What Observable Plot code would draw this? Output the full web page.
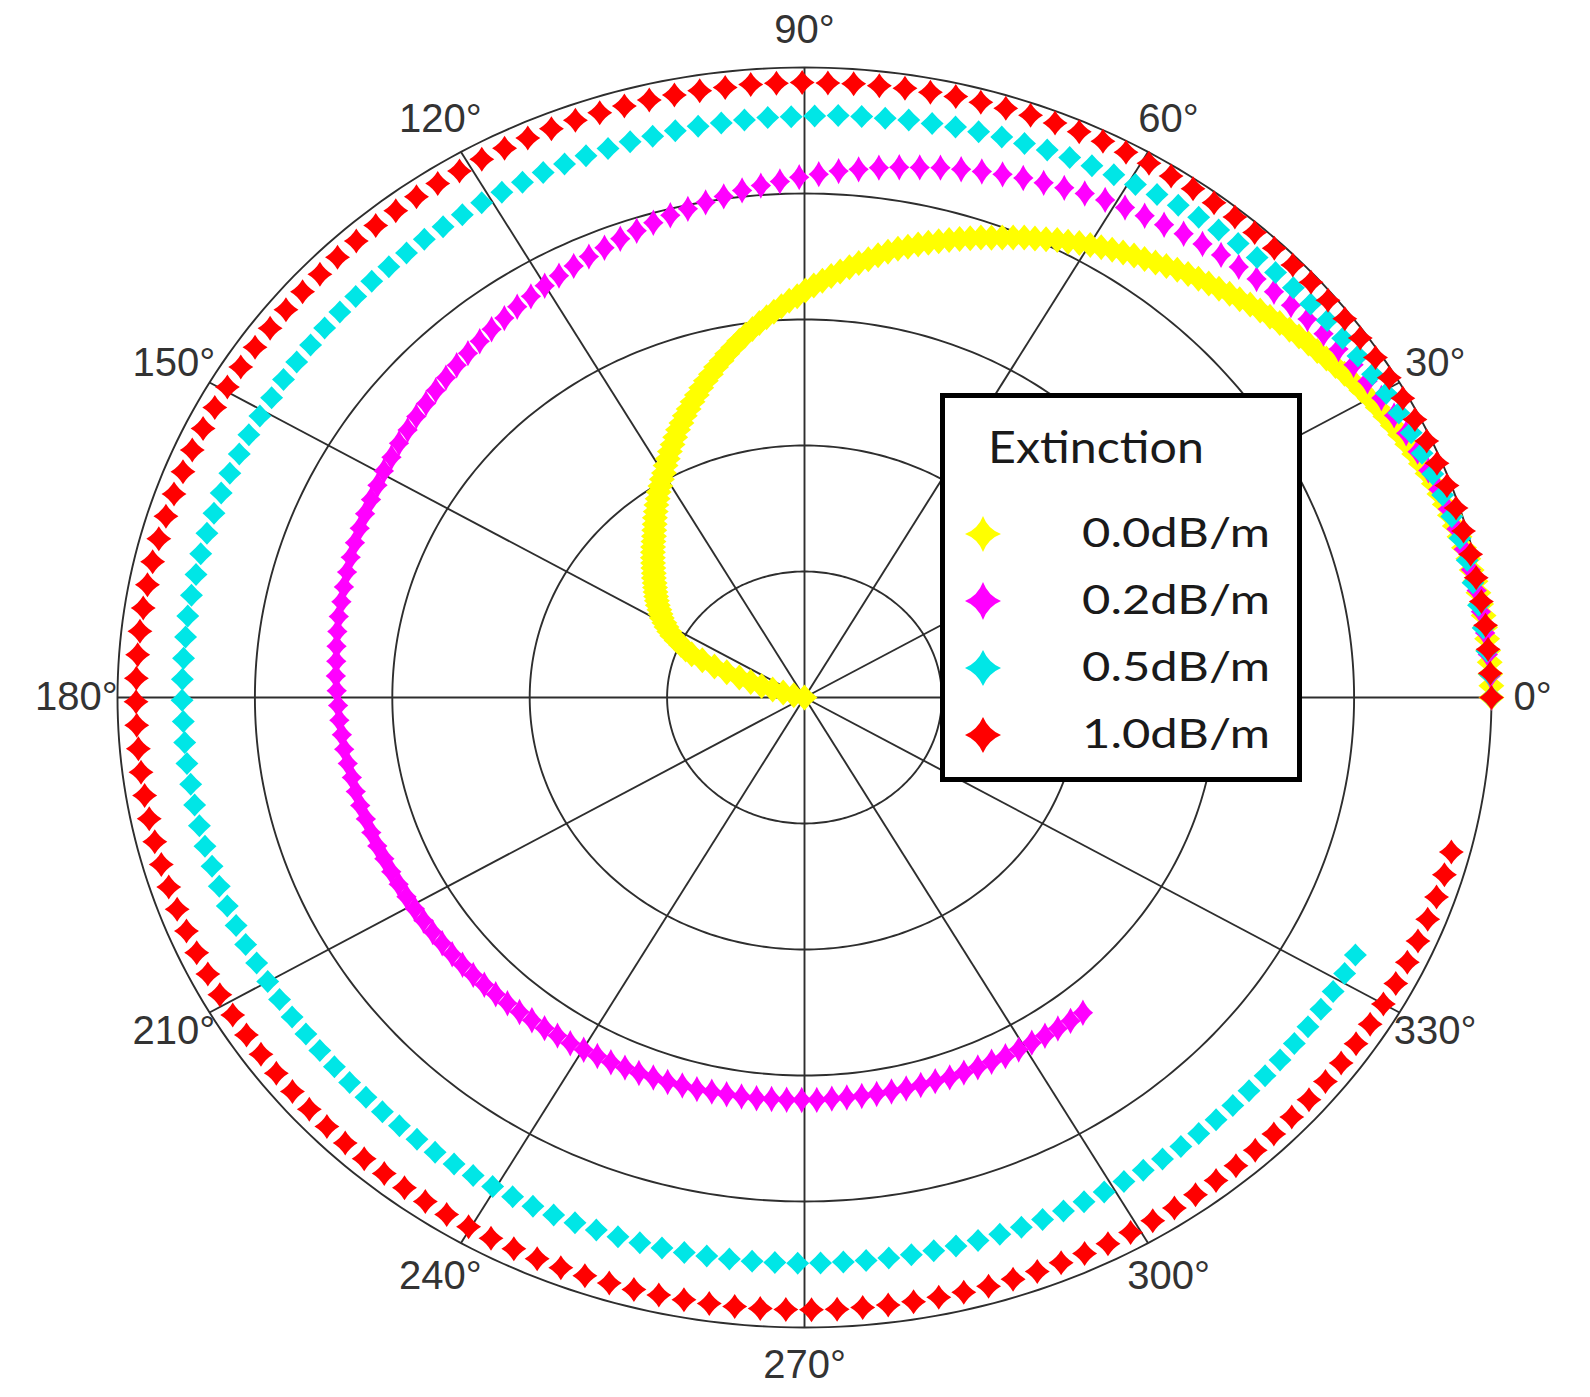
<!DOCTYPE html>
<html>
<head>
<meta charset="utf-8">
<script src="https://cdn.jsdelivr.net/npm/d3@7"></script>
<script src="https://cdn.jsdelivr.net/npm/@observablehq/plot@0.6"></script>
<style>
html, body { margin: 0; padding: 0; background: #fff; }
#wrap { position: relative; width: 1590px; height: 1397px; overflow: hidden; }
#wrap > svg.chart { position: absolute; left: 0; top: 0; }
#wrap > svg#legend { position: absolute; left: 940px; top: 393px; }
</style>
</head>
<body>
<div id="wrap"></div>
<script>
// ---------------- data ----------------
const seriesLabels = ["0.0dB/m", "0.2dB/m", "0.5dB/m", "1.0dB/m"];
const legendTitle = "Extinction";
// angular sweep of each series (degrees): markers are evenly spaced from start to end
const angleStart = [0, 0, 0, 0];
const angleEnd = [168, 309, 333, 345.4];

// radius of every marker
const rExt00 = [
1.000,1.000,.999,.999,.998,.998,.997,.997,.996,.995,
.994,.992,.991,.989,.987,.985,.983,.981,.979,.977,
.974,.971,.968,.965,.962,.959,.956,.953,.950,.946,
.943,.939,.935,.931,.927,.924,.920,.916,.912,.908,
.904,.900,.895,.891,.886,.882,.878,.874,.869,.864,
.859,.854,.850,.845,.840,.835,.830,.825,.819,.814,
.808,.802,.797,.791,.785,.779,.774,.768,.762,.756,
.750,.744,.738,.731,.725,.718,.710,.702,.694,.686,
.678,.670,.662,.654,.646,.637,.630,.622,.614,.606,
.598,.590,.582,.574,.565,.557,.548,.540,.531,.523,
.514,.505,.497,.488,.480,.471,.463,.454,.445,.437,
.428,.420,.411,.404,.396,.389,.381,.374,.366,.359,
.351,.344,.337,.331,.325,.319,.313,.307,.301,.295,
.290,.284,.279,.274,.269,.264,.259,.253,.248,.243,
.236,.230,.223,.216,.207,.198,.189,.178,.160,.140,
.120,.100,.082,.065,.048,.032,.016,0
];
const rExt02 = [
1.000,.999,.997,.996,.994,.993,.991,.988,.986,.983,
.980,.977,.974,.971,.968,.965,.961,.958,.954,.951,
.947,.943,.939,.935,.931,.928,.924,.920,.915,.911,
.907,.903,.898,.893,.888,.884,.879,.874,.869,.864,
.858,.853,.848,.842,.837,.831,.826,.820,.815,.810,
.804,.799,.794,.790,.785,.780,.776,.771,.767,.763,
.759,.755,.751,.748,.744,.741,.737,.734,.731,.728,
.725,.722,.720,.717,.715,.712,.710,.707,.705,.703,
.701,.699,.697,.695,.693,.691,.690,.688,.686,.684,
.683,.681,.679,.678,.676,.675,.673,.671,.670,.669,
.667,.666,.665,.663,.662,.661,.660,.659,.658,.657,
.656,.655,.654,.653,.652,.651,.650,.649,.648,.647,
.646,.646,.645,.644,.644,.643,.643,.642,.642,.641,
.641,.640,.640,.640,.640,.639,.639,.639,.639,.638,
.638,.638,.638,.638,.638,.638,.638,.639,.639,.639,
.639,.640,.640,.640,.641,.642,.643,.644
];
const rExt05 = [
1.000,.998,.996,.994,.992,.990,.989,.987,.985,.983,
.981,.979,.978,.976,.975,.973,.971,.969,.968,.966,
.964,.962,.960,.958,.956,.954,.952,.949,.946,.944,
.942,.940,.938,.936,.935,.933,.932,.930,.929,.927,
.926,.925,.923,.922,.922,.921,.920,.920,.919,.918,
.918,.917,.917,.916,.916,.915,.915,.915,.914,.914,
.914,.913,.913,.913,.912,.912,.912,.911,.911,.911,
.910,.910,.910,.909,.909,.909,.908,.908,.908,.907,
.907,.907,.906,.906,.906,.906,.905,.905,.905,.904,
.904,.904,.904,.903,.903,.903,.903,.903,.902,.902,
.902,.902,.901,.901,.901,.901,.900,.900,.900,.900,
.900,.899,.899,.899,.899,.899,.899,.898,.898,.898,
.898,.898,.898,.898,.898,.898,.898,.898,.898,.898,
.898,.898,.898,.898,.898,.898,.898,.898,.898,.898,
.898,.898,.898,.898,.899,.899,.899,.899,.899,.899,
.900,.900,.900,.900,.900,.900,.900,.900
];
const rExt10 = [
1.000,.999,.998,.998,.997,.996,.996,.995,.995,.994,
.993,.993,.992,.992,.991,.991,.990,.990,.989,.989,
.988,.988,.987,.987,.986,.986,.985,.985,.984,.984,
.983,.982,.981,.980,.979,.979,.978,.978,.977,.977,
.976,.976,.976,.976,.975,.975,.975,.975,.975,.975,
.975,.975,.975,.975,.975,.975,.975,.975,.975,.975,
.975,.975,.974,.974,.974,.974,.974,.974,.974,.974,
.974,.974,.973,.973,.973,.973,.973,.973,.973,.973,
.973,.973,.973,.973,.973,.973,.973,.973,.973,.973,
.973,.973,.973,.973,.973,.973,.973,.973,.973,.973,
.973,.973,.973,.973,.973,.972,.972,.972,.972,.972,
.972,.972,.972,.972,.972,.972,.972,.972,.972,.972,
.972,.972,.972,.972,.972,.972,.972,.972,.972,.972,
.972,.972,.972,.972,.972,.973,.973,.973,.973,.973,
.973,.973,.973,.973,.973,.973,.973,.973,.973,.973,
.973,.973,.973,.973,.973,.973,.973,.973
];
const seriesRadii = [rExt00, rExt02, rExt05, rExt10];

// polar grid
const ringRadii = [0.2, 0.4, 0.6, 0.8, 1.0];
const spokeAngles = [0, 30, 60, 90, 120, 150, 180, 210, 240, 270, 300, 330];
const spokeLabels = ["0°", "30°", "60°", "90°", "120°", "150°", "180°", "210°", "240°", "270°", "300°", "330°"];

// ---------------- styles ----------------
const seriesColors = ["#ffff00", "#ff00ff", "#00e6e6", "#ff0000"];
const gridColor = "#2e2e2e";
const labelColor = "#333333";

// 4-point star symbol with concave sides (k = 0.5 gives a plain diamond)
function star4(k, sx = 1, sy = 1) {
  return {
    draw(ctx, size) {
      const R = Math.sqrt(size / Math.PI);
      const rx = R * sx, ry = R * sy;
      ctx.moveTo(0, -ry);
      ctx.quadraticCurveTo(k * rx, -k * ry, rx, 0);
      ctx.quadraticCurveTo(k * rx, k * ry, 0, ry);
      ctx.quadraticCurveTo(-k * rx, k * ry, -rx, 0);
      ctx.quadraticCurveTo(-k * rx, -k * ry, 0, -ry);
      ctx.closePath();
    }
  };
}
const markerShapes = [star4(0.42), star4(0.36, 0.85, 1.1), star4(0.46), star4(0.36)];
const markerSizes = [13, 12, 11.5, 12.5];
const legendShapes = [star4(0.27), star4(0.28, 1, 1.05), star4(0.3), star4(0.3)];

// ---------------- build tables ----------------
const rad = Math.PI / 180;
const points = [];
seriesLabels.forEach((lab, s) => {
  const rr = seriesRadii[s];
  const n = rr.length;
  rr.forEach((r, i) => {
    const th = (angleStart[s] + (angleEnd[s] - angleStart[s]) * i / (n - 1)) * rad;
    points.push({series: lab, s, r, x: r * Math.cos(th), y: r * Math.sin(th)});
  });
});

const ringPoints = ringRadii.flatMap(r =>
  d3.range(0, 361, 1).map(a => ({ring: r, x: r * Math.cos(a * rad), y: r * Math.sin(a * rad)})));

const spokes = spokeAngles.map((a, i) => ({a, label: spokeLabels[i]}));
const labelRadius = 1.06;

const chart = Plot.plot({
  width: 1590,
  height: 1397,
  margin: 0,
  className: "chart",
  x: {domain: [-1, 1], range: [117, 1491], axis: null},
  y: {domain: [-1, 1], range: [1327, 67], axis: null},
  style: {background: "white", overflow: "visible"},
  marks: [
    Plot.line(ringPoints, {x: "x", y: "y", z: "ring", stroke: gridColor, strokeWidth: 1.9}),
    Plot.link(spokes, {
      x1: () => 0, y1: () => 0,
      x2: d => Math.cos(d.a * rad), y2: d => Math.sin(d.a * rad),
      stroke: gridColor, strokeWidth: 1.9
    }),
    Plot.text(spokes, {
      x: d => labelRadius * Math.cos(d.a * rad),
      y: d => labelRadius * Math.sin(d.a * rad),
      text: "label",
      fontSize: 40,
      fontFamily: "Liberation Sans, Arial, sans-serif",
      fill: labelColor
    }),
    ...seriesLabels.map((lab, s) => Plot.dot(points.filter(d => d.s === s), {
      x: "x", y: "y",
      r: markerSizes[s],
      symbol: markerShapes[s],
      fill: seriesColors[s],
      stroke: "none"
    }))
  ]
});
chart.classList.add("chart");
document.getElementById("wrap").appendChild(chart);

// ---------------- legend (overlaid box) ----------------
const lg = d3.create("svg")
  .attr("id", "legend")
  .attr("width", 364)
  .attr("height", 392);
lg.append("rect")
  .attr("x", 2.5).attr("y", 2.5)
  .attr("width", 357).attr("height", 384)
  .attr("fill", "white").attr("stroke", "black").attr("stroke-width", 5);
lg.append("text")
  .attr("x", 48).attr("y", 70)
  .attr("font-family", "Lato, 'Open Sans', sans-serif")
  .attr("font-size", 45)
  .attr("fill", "#1a1a1a")
  .attr("textLength", 216)
  .attr("lengthAdjust", "spacingAndGlyphs")
  .text(legendTitle);
const rowBase = [154, 221, 288, 355];
seriesLabels.forEach((lab, s) => {
  const sym = d3.symbol(legendShapes[s], Math.PI * 18 * 18)();
  lg.append("path")
    .attr("d", sym)
    .attr("transform", `translate(43,${rowBase[s] - 13})`)
    .attr("fill", seriesColors[s]);
  lg.append("text")
    .attr("x", 142).attr("y", rowBase[s])
    .attr("font-family", "Lato, 'Open Sans', sans-serif")
    .attr("font-size", 40)
    .attr("fill", "#1a1a1a")
    .attr("textLength", 188)
    .attr("lengthAdjust", "spacingAndGlyphs")
    .text(lab);
});
document.getElementById("wrap").appendChild(lg.node());
</script>
</body>
</html>
